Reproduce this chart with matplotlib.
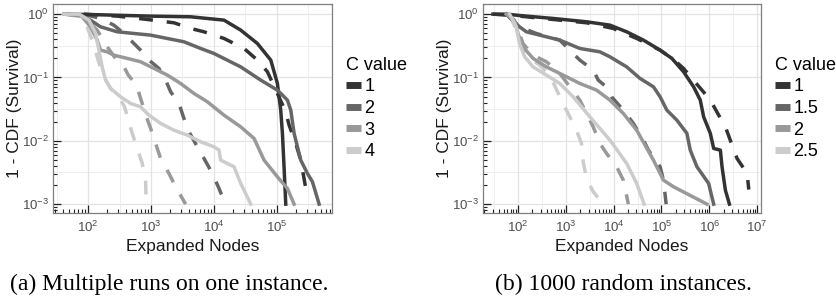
import matplotlib
matplotlib.use("Agg")
import matplotlib.pyplot as plt
from matplotlib.lines import Line2D
from matplotlib.ticker import LogLocator, LogFormatterMathtext, NullFormatter

plt.rcParams['font.family'] = ['Liberation Sans', 'DejaVu Sans']
plt.rcParams['mathtext.default'] = 'regular'

# ---- (a) multiple runs on one instance ----
a_labels = ["1", "2", "3", "4"]

a1_x = [46, 157, 985, 4268, 14500, 26750, 49290, 80460, 102600, 115900, 123300, 130900, 139300]
a1_y = [1.0, 0.976, 0.93, 0.908, 0.804, 0.559, 0.344, 0.188, 0.0804, 0.0305, 0.0131, 0.00389, 0.001]
a1d_x = [85, 290, 871, 2317, 4268, 6970, 14500, 30240, 49290, 71180, 102600, 139300, 157400,
         201000, 241500, 290400, 308300]
a1d_y = [1.0, 0.93, 0.824, 0.73, 0.594, 0.526, 0.413, 0.287, 0.188, 0.123, 0.0559, 0.0287, 0.0177,
         0.00908, 0.00495, 0.00177, 0.00131]

a2_x = [41, 76, 109, 157, 290, 985, 3342, 6166, 10050, 26750, 55710, 102600, 148000, 167500,
        189200, 241500, 308300, 370700, 473200]
a2_y = [1.0, 0.965, 0.804, 0.631, 0.526, 0.466, 0.366, 0.287, 0.239, 0.147, 0.0908, 0.0631, 0.0439,
        0.0305, 0.0131, 0.00495, 0.00305, 0.00225, 0.001]
a2d_x = [85, 157, 256, 370, 472, 682, 926, 1336, 1708, 2052, 2782, 3342, 4015, 5454, 6970, 9463,
         12070, 13650]
a2d_y = [1.0, 0.855, 0.67, 0.495, 0.389, 0.27, 0.188, 0.139, 0.0908, 0.0594, 0.0389, 0.0225, 0.0139,
         0.00804, 0.00526, 0.00305, 0.00177, 0.00131]

a3_x = [41, 76, 109, 139, 157, 201, 256, 418, 682, 1112, 1815, 2958, 4825, 7879, 14500, 26750,
        43580, 62970, 102600, 148000, 189200]
a3_y = [1.0, 0.965, 0.631, 0.389, 0.27, 0.254, 0.225, 0.2, 0.177, 0.139, 0.109, 0.0804, 0.0559,
        0.0413, 0.0254, 0.0166, 0.0109, 0.00495, 0.0027, 0.00177, 0.001]
a3d_x = [46, 85, 139, 201, 272, 348, 434, 589, 682, 881, 985, 1183, 1420, 1929, 2463, 3553]
a3d_y = [1.0, 0.908, 0.559, 0.305, 0.2, 0.166, 0.109, 0.0757, 0.0466, 0.0212, 0.0157, 0.00908,
         0.00526, 0.00305, 0.00188, 0.001]

a4_x = [41, 71, 103, 131, 148, 167, 189, 227, 327, 472, 682, 926, 1420, 2317, 3777, 6166, 10050,
        12070, 12830, 20940, 26750, 38640]
a4_y = [1.0, 1.0, 0.804, 0.495, 0.27, 0.147, 0.0908, 0.067, 0.0495, 0.0389, 0.0344, 0.0254, 0.0188,
        0.0147, 0.0123, 0.00964, 0.00804, 0.00712, 0.00495, 0.00389, 0.00212, 0.001]
a4d_x = [41, 67, 96, 116, 139, 167, 227, 308, 379, 502, 604, 725, 819, 839]
a4d_y = [1.0, 0.93, 0.631, 0.389, 0.212, 0.116, 0.067, 0.0495, 0.0344, 0.0131, 0.00757, 0.00439,
         0.00239, 0.001]

# ---- (b) 1000 random instances ----
b_labels = ["1", "1.5", "2", "2.5"]

b1_x = [30, 57, 108, 542, 2714, 8374, 18740, 41940, 93700, 164800, 289500, 469200, 647500, 760500,
        1049000, 1233000, 1701000, 1844000, 2166000, 2630000]
b1_y = [1.0, 1.0, 0.952, 0.855, 0.757, 0.67, 0.526, 0.389, 0.27, 0.2, 0.123, 0.0712, 0.0439, 0.0239,
        0.0131, 0.00757, 0.00712, 0.00389, 0.00166, 0.001]
b1d_x = [30, 108, 542, 2714, 9839, 30390, 93700, 178500, 289500, 432500, 701500, 1049000, 1570000,
         2166000, 2992000, 3801000, 6166000, 6680000]
b1d_y = [1.0, 0.93, 0.824, 0.73, 0.594, 0.413, 0.27, 0.192, 0.139, 0.0965, 0.0631, 0.0439, 0.0254,
         0.0166, 0.00855, 0.00526, 0.00305, 0.0017]

b2_x = [57, 108, 150, 285, 748, 1966, 5167, 8374, 18740, 35700, 67910, 93700, 129400, 209700,
        340000, 399400, 551200, 967800, 1233000]
b2_y = [1.0, 0.631, 0.526, 0.466, 0.389, 0.287, 0.254, 0.212, 0.147, 0.0965, 0.0712, 0.0495, 0.0305,
        0.0212, 0.0131, 0.00712, 0.00389, 0.00212, 0.001]
b2d_x = [57, 108, 242, 748, 1425, 1966, 3745, 4768, 7727, 9076, 15950, 25870, 41940, 53330, 93700,
         110100, 125300]
b2d_y = [1.0, 0.631, 0.495, 0.389, 0.239, 0.188, 0.131, 0.0908, 0.067, 0.0495, 0.0305, 0.0188,
         0.0103, 0.00712, 0.00389, 0.00239, 0.001]

b3_x = [57, 85, 100, 127, 207, 393, 879, 1966, 4399, 8374, 15950, 30390, 67910, 110100, 178500,
        893400]
b3_y = [1.0, 0.804, 0.495, 0.305, 0.2, 0.147, 0.109, 0.0804, 0.0631, 0.0439, 0.027, 0.0147, 0.00495,
        0.00239, 0.00188, 0.001]
b3d_x = [57, 92, 127, 207, 393, 748, 1213, 1966, 2714, 3745, 5167, 7129, 11560, 15950, 20310]
b3d_y = [1.0, 0.713, 0.344, 0.225, 0.177, 0.116, 0.0712, 0.0439, 0.027, 0.0166, 0.00908, 0.00631,
         0.00389, 0.00239, 0.001]

b4_x = [67, 92, 108, 138, 207, 393, 748, 1425, 3188, 8374, 18740, 30390, 43270]
b4_y = [1.0, 0.631, 0.344, 0.212, 0.147, 0.109, 0.0804, 0.0495, 0.0239, 0.01025, 0.00439, 0.00212,
        0.001]
b4d_x = [67, 92, 117, 176, 285, 462, 811, 1213, 1674, 2132, 2310, 2714, 3745, 6069]
b4d_y = [1.0, 0.559, 0.305, 0.2, 0.156, 0.109, 0.0439, 0.0239, 0.0147, 0.00908, 0.00466, 0.00254,
         0.00157, 0.001]

greys = ["#333333", "#666666", "#999999", "#cccccc"]

W, H = 837, 307
fig = plt.figure(figsize=(W / 100, H / 100), dpi=100)


def panel(rect, solids, dashes, labels, xlim):
    ax = fig.add_axes(rect)
    for i in range(4):
        ax.plot(dashes[i][0], dashes[i][1], color=greys[i], lw=2.5, dashes=(4, 4),
                solid_capstyle='butt', zorder=2)
    for i in range(4):
        ax.plot(solids[i][0], solids[i][1], color=greys[i], lw=2.5, zorder=3)
    ax.set_xscale('log')
    ax.set_yscale('log')
    ax.set_xlim(*xlim)
    ax.set_ylim(10 ** -3.14, 10 ** 0.16)

    # grid: decades + half decades
    for k in range(-3, 1):
        ax.axhline(10.0 ** k, color='#e3e3e3', lw=0.9, zorder=0)
    for k in range(-3, 0):
        ax.axhline(10.0 ** (k + 0.5), color='#eeeeee', lw=0.7, zorder=0)
    for k in range(1, 8):
        ax.axvline(10.0 ** k, color='#e3e3e3', lw=0.9, zorder=0)
        ax.axvline(10.0 ** (k + 0.5), color='#eeeeee', lw=0.7, zorder=0)

    for axis in (ax.xaxis, ax.yaxis):
        axis.set_major_locator(LogLocator(base=10, numticks=12))
        axis.set_major_formatter(LogFormatterMathtext())
        axis.set_minor_locator(LogLocator(base=10, subs=range(2, 10), numticks=12))
        axis.set_minor_formatter(NullFormatter())
    ax.tick_params(which='major', direction='in', length=6, width=0.9, color='#222222',
                   labelsize=9.5, labelcolor='#4d4d4d', pad=3)
    ax.tick_params(which='minor', direction='in', length=3, width=0.8, color='#222222')
    ax.tick_params(axis='x', which='major', pad=5)

    for s in ax.spines.values():
        s.set_color('#7f7f7f')
        s.set_linewidth(0.9)

    ax.set_xlabel("Expanded Nodes", fontsize=12.5, color='#1a1a1a')
    ax.set_ylabel("1 - CDF (Survival)", fontsize=12.5, color='#1a1a1a')
    ax.xaxis.set_label_coords(0.5, -0.125)
    ax.yaxis.set_label_coords(-0.112, 0.5)

    handles = [Line2D([], [], color=greys[i], lw=5, solid_capstyle='butt') for i in range(4)]
    leg = ax.legend(handles, labels, title="C value", loc='center left',
                    bbox_to_anchor=(1.025, 0.5), frameon=False, fontsize=13,
                    title_fontsize=13, handlelength=0.8, handletextpad=0.2,
                    labelspacing=0.25, borderaxespad=0.0)
    leg._legend_box.align = "left"
    return ax


panel([53 / W, 1 - 213 / H, 279 / W, 209 / H],
      [(a1_x, a1_y), (a2_x, a2_y), (a3_x, a3_y), (a4_x, a4_y)],
      [(a1d_x, a1d_y), (a2d_x, a2d_y), (a3d_x, a3d_y), (a4d_x, a4d_y)],
      a_labels, (10 ** 1.44, 10 ** 5.88))

panel([483 / W, 1 - 213 / H, 278 / W, 209 / H],
      [(b1_x, b1_y), (b2_x, b2_y), (b3_x, b3_y), (b4_x, b4_y)],
      [(b1d_x, b1d_y), (b2d_x, b2d_y), (b3d_x, b3d_y), (b4d_x, b4d_y)],
      b_labels, (10 ** 1.27, 10 ** 7.08))

fig.text(169 / W, 1 - 284 / H, "(a) Multiple runs on one instance.", ha='center', va='center',
         fontsize=17, family='Liberation Serif')
fig.text(623 / W, 1 - 284 / H, "(b) 1000 random instances.", ha='center', va='center',
         fontsize=17, family='Liberation Serif')

fig.savefig("out.png", dpi=100)
